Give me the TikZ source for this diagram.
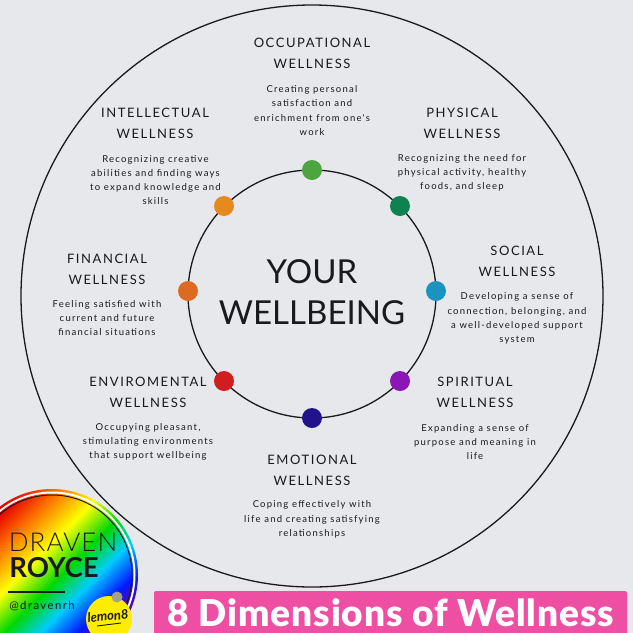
\documentclass[tikz,border=0pt]{standalone}
\usepackage{xcolor}
\usepackage{fontspec}
\usepackage{tikz}
\usetikzlibrary{positioning}
\setmainfont{Lato}
\newfontfamily\headfont[LetterSpace=12]{Lato}
\newfontfamily\bodyfont[LetterSpace=13]{Lato}
\newfontfamily\bigfont{Lato}
\newfontfamily\thinfont[LetterSpace=4]{Lato Light}
\newfontfamily\bannerfont[LetterSpace=2.6]{Lato Black}
\definecolor{paper}{HTML}{E6E8EB}
\definecolor{ink}{HTML}{1A1A1E}
\definecolor{bannerpink}{HTML}{EF4FA3}
\pgfdeclarehorizontalshading{rainbowshade}{100bp}{
  color(0bp)=(red!90!black);
  color(25bp)=(red!90!black);
  color(34bp)=(orange);
  color(43bp)=(yellow);
  color(52bp)=(green!85!black);
  color(60bp)=(cyan!80!blue);
  color(68bp)=(blue!90!cyan);
  color(75bp)=(violet);
  color(100bp)=(violet)}
\tikzset{
  headtxt/.style={font=\headfont\fontsize{13}{21}\selectfont,text=ink,align=center,inner sep=0pt},
  bodytxt/.style={font=\bodyfont\fontsize{9.5}{14.2}\selectfont,text=ink,align=center,inner sep=0pt},
  bigtxt/.style={font=\bigfont\fontsize{33}{41}\selectfont,text=ink,align=center,inner sep=0pt},
  dot/.style={circle,fill=#1,minimum size=20pt,inner sep=0pt},
}
\begin{document}
\begin{tikzpicture}[x=1pt,y=-1pt]
  \useasboundingbox (0,0) rectangle (633,633);
  \clip (0,0) rectangle (633,633);
  \fill[paper] (0,0) rectangle (633,633);

  %%% BEGIN: CIRCLES.
  \draw[ink,line width=1.3pt] (312,296) circle (291);
  \draw[ink,line width=1.3pt] (312,294) circle (124);
  % Dots on the inner ring.
  \foreach \name/\x/\y/\col in {occ/312/170/4CA53F,phy/400/206/0E8350,soc/436/291/1A93C0,spi/400/381/8A16B5,emo/312/418/22128C,env/224/381/D01E20,fin/188/291/DC6A20,int/224/206/E68A20}{
    \definecolor{dotcol}{HTML}{\col}
    \node[dot=dotcol] (\name) at (\x,\y) {};
  }
  %%% END: CIRCLES.

  \node[bigtxt] (centre) at (312,292) {YOUR\\WELLBEING};

  %%% BEGIN: LABELS.
  \node[headtxt] (occhead) at (312,53) {OCCUPATIONAL\\WELLNESS};
  \node[bodytxt] (occbody) at (312,110.5) {Creating personal\\satisfaction and\\enrichment from one's\\work};
  \node[headtxt] (inthead) at (155,123.5) {INTELLECTUAL\\WELLNESS};
  \node[bodytxt] (intbody) at (155.5,180) {Recognizing creative\\abilities and finding ways\\to expand knowledge and\\skills};
  \node[headtxt] (phyhead) at (462,123.5) {PHYSICAL\\WELLNESS};
  \node[bodytxt] (phybody) at (462,173) {Recognizing the need for\\physical activity, healthy\\foods, and sleep};
  \node[headtxt] (sochead) at (517,261.5) {SOCIAL\\WELLNESS};
  \node[bodytxt] (socbody) at (517,318.5) {Developing a sense of\\connection, belonging, and\\a well-developed support\\system};
  \node[headtxt] (finhead) at (107,269) {FINANCIAL\\WELLNESS};
  \node[bodytxt] (finbody) at (107,318) {Feeling satisfied with\\current and future\\financial situations};
  \node[headtxt] (envhead) at (148,392) {ENVIROMENTAL\\WELLNESS};
  \node[bodytxt] (envbody) at (148,442) {Occupying pleasant,\\stimulating environments\\that support wellbeing};
  \node[headtxt] (spihead) at (475,392) {SPIRITUAL\\WELLNESS};
  \node[bodytxt] (spibody) at (475,442) {Expanding a sense of\\purpose and meaning in\\life};
  \node[headtxt] (emohead) at (312,470) {EMOTIONAL\\WELLNESS};
  \node[bodytxt] (emobody) at (312,519.5) {Coping effectively with\\life and creating satisfying\\relationships};
  %%% END: LABELS.

  %%% BEGIN: BADGE.
  \shade[shading=rainbowshade,shading angle=-45] (52,575) circle (86);
  \fill[white] (52,575) circle (83.5);
  \shade[shading=rainbowshade,shading angle=-45] (52,575) circle (81.5);
  \draw[ink,line width=1pt] (52,575) circle (80);
  \node[font=\thinfont\fontsize{26}{26}\selectfont,text=ink,inner sep=0pt] (draven) at (63,542) {DRAVEN};
  \node[font=\bigfont\bfseries\fontsize{27.5}{27}\selectfont,text=ink,inner sep=0pt] (royce) at (54,568) {ROYCE};
  \draw[ink,line width=2pt] (8,592) -- (65,592);
  \node[font=\bodyfont\fontsize{11.3}{11}\selectfont,text=ink,inner sep=0pt] (handle) at (42,606) {@dravenrh};
  \fill[yellow!95!orange] (109,619) circle (23);
  \fill[gray!80!yellow] (117,597) circle (5.5);
  \node[font=\bigfont\bfseries\itshape\fontsize{13}{13}\selectfont,text=ink,inner sep=0pt,rotate=6] (lemon) at (108,616) {lemon8};
  \draw[ink,line width=0.9pt] (97,626) -- (121,623);
  %%% END: BADGE.

  %%% BEGIN: BANNER.
  \fill[bannerpink,rounded corners=2pt] (154,591) rectangle (627,640);
  \node[font=\bannerfont\fontsize{37}{37}\selectfont,text=white,inner sep=0pt] (banner) at (391,613) {8 Dimensions of Wellness};
  %%% END: BANNER.
\end{tikzpicture}
\end{document}
